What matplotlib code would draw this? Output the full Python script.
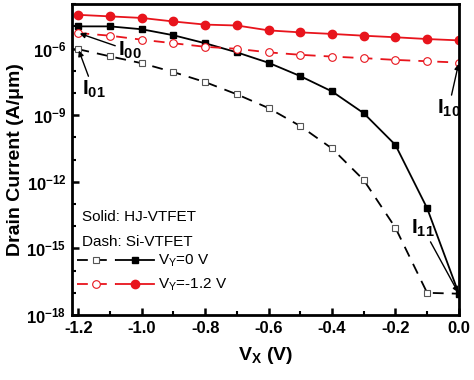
import matplotlib
matplotlib.use('Agg')
import matplotlib.pyplot as plt
from matplotlib.legend_handler import HandlerTuple
from matplotlib.ticker import FixedLocator, MultipleLocator, NullFormatter
from matplotlib.lines import Line2D

plt.rcParams['font.family'] = ['Liberation Sans', 'DejaVu Sans']
plt.rcParams['mathtext.default'] = 'regular'

vx = [-1.2, -1.1, -1.0, -0.9, -0.8, -0.7, -0.6, -0.5, -0.4, -0.3, -0.2, -0.1, 0.0]

# log10 of drain current (A/um)
hj_vy12 = [-4.48, -4.55, -4.62, -4.78, -4.92, -4.96, -5.18, -5.27, -5.34, -5.42, -5.49, -5.57, -5.63]
si_vy12 = [-5.30, -5.42, -5.60, -5.76, -5.92, -6.01, -6.17, -6.28, -6.36, -6.43, -6.51, -6.57, -6.63]
hj_vy0 = [-5.00, -5.00, -5.13, -5.40, -5.76, -6.17, -6.64, -7.24, -7.93, -8.91, -10.34, -13.19, -17.04]
si_vy0 = [-6.03, -6.35, -6.66, -7.06, -7.51, -8.06, -8.68, -9.49, -10.50, -11.92, -14.07, -17.0, -17.04]

xticks = [-1.2, -1.0, -0.8, -0.6, -0.4, -0.2, 0.0]
xticklabels = ['-1.2', '-1.0', '-0.8', '-0.6', '-0.4', '-0.2', '0.0']
yticks_exp = [-18, -15, -12, -9, -6]

fig = plt.figure(figsize=(4.74, 3.8), dpi=100)
ax = fig.add_axes([0.152, 0.171, 0.816, 0.818])

def cur(v):
    return [10 ** a for a in v]

red = '#e8141c'
dash = (0, (6, 4.5))
ax.plot(vx, cur(si_vy0), color='black', ls=dash, lw=1.3,
        marker='s', ms=5, mfc='white', mec='#555555', mew=0.8)
ax.plot(vx, cur(hj_vy0), color='black', lw=1.3,
        marker='s', ms=5, mfc='black', mec='black')
ax.plot(vx, cur(si_vy12), color=red, ls=dash, lw=1.3,
        marker='o', ms=5.5, mfc='white', mec=red, mew=0.8)
ax.plot(vx, cur(hj_vy12), color=red, lw=1.3,
        marker='o', ms=6, mfc=red, mec=red)

ax.set_yscale('log')
ax.set_xlim(-1.22, 0.0)
ax.set_ylim(1e-18, 1e-4)
ax.yaxis.set_major_locator(FixedLocator([10.0 ** e for e in yticks_exp]))
ax.set_yticklabels(['10$^{%d}$' % e for e in yticks_exp])
ax.yaxis.set_minor_locator(FixedLocator([10.0 ** e for e in range(-18, -3)]))
ax.yaxis.set_minor_formatter(NullFormatter())
ax.set_xticks(xticks)
ax.set_xticklabels(xticklabels)
ax.xaxis.set_minor_locator(MultipleLocator(0.1))

for s in ax.spines.values():
    s.set_linewidth(2)
ax.tick_params(which='major', direction='in', length=5, width=1.8, labelsize=12, pad=4)
ax.tick_params(which='minor', direction='in', length=3, width=1.5)
ax.tick_params(which='both', top=False, right=False)
for t in ax.get_xticklabels() + ax.get_yticklabels():
    t.set_fontweight('bold')

ax.set_xlabel('V$_X$ (V)', fontsize=14, fontweight='bold', labelpad=7)
ax.set_ylabel('Drain Current (A/μm)', fontsize=14, fontweight='bold', labelpad=2)

ann = dict(arrowstyle='-|>', color='black', lw=1.0, mutation_scale=8, shrinkA=0, shrinkB=1)
ax.annotate('I$_{00}$', xy=(-1.2, 10 ** si_vy12[0]), xytext=(-1.075, 10 ** -6.1),
            fontsize=15, fontweight='bold', arrowprops=ann, ha='left', va='center')
ax.annotate('I$_{01}$', xy=(-1.2, 10 ** si_vy0[0]), xytext=(-1.19, 10 ** -7.85),
            fontsize=15, fontweight='bold', arrowprops=ann, ha='left', va='center')
ax.annotate('I$_{10}$', xy=(0.0, 10 ** si_vy12[-1]), xytext=(-0.07, 10 ** -8.7),
            fontsize=15, fontweight='bold', arrowprops=ann, ha='left', va='center')
ax.annotate('I$_{11}$', xy=(0.0, 10 ** hj_vy0[-1]), xytext=(-0.15, 10 ** -14.1),
            fontsize=15, fontweight='bold', arrowprops=ann, ha='left', va='center')

ax.text(-1.19, 10 ** -13.6, 'Solid: HJ-VTFET', fontsize=11, va='center')
ax.text(-1.19, 10 ** -14.7, 'Dash: Si-VTFET', fontsize=11, va='center')

h0a = Line2D([], [], color='black', ls=dash, lw=1.3, marker='s', ms=5, mfc='white', mec='#555555', mew=0.8)
h0b = Line2D([], [], color='black', lw=1.3, marker='s', ms=5, mfc='black', mec='black')
h1a = Line2D([], [], color=red, ls=dash, lw=1.3, marker='o', ms=5.5, mfc='white', mec=red, mew=0.8)
h1b = Line2D([], [], color=red, lw=1.3, marker='o', ms=6, mfc=red, mec=red)
ax.legend([(h0a, h0b), (h1a, h1b)], ['V$_Y$=0 V', 'V$_Y$=-1.2 V'],
          handler_map={tuple: HandlerTuple(ndivide=None, pad=0.0)},
          loc='lower left', bbox_to_anchor=(-0.01, 0.04), frameon=False,
          fontsize=11, handlelength=5.0, handletextpad=0.3, labelspacing=0.5,
          borderaxespad=0.2)

fig.savefig('out.png', dpi=100)
